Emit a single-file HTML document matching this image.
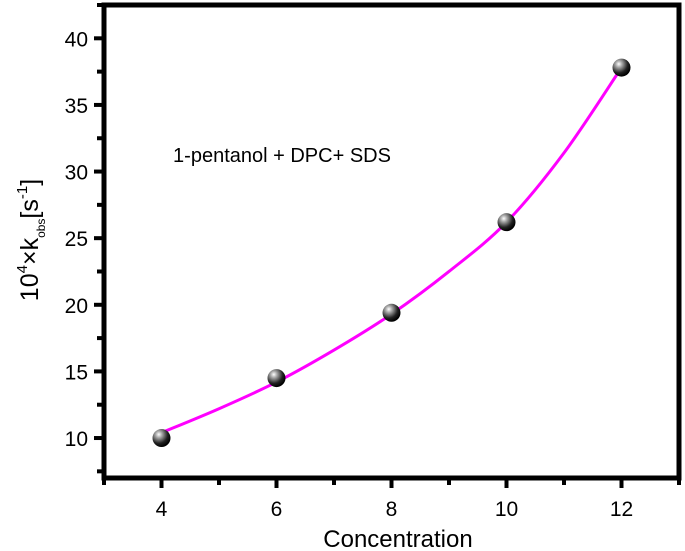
<!DOCTYPE html>
<html><head><meta charset="utf-8"><style>
body{margin:0;background:#fff;}
svg{display:block;font-family:"Liberation Sans",Arial,sans-serif;}
</style></head><body>
<svg id="chart" width="685" height="551" viewBox="0 0 685 551">
<defs>
<radialGradient id="ball" cx="0.35" cy="0.3" r="0.7">
<stop offset="0" stop-color="#fff"/><stop offset="0.25" stop-color="#aaa"/><stop offset="0.7" stop-color="#222"/><stop offset="1" stop-color="#000"/>
</radialGradient>
</defs>
<g id="axes"></g>
<g id="marks"></g>
<text x="282" y="162" font-size="20" text-anchor="middle">1-pentanol + DPC+ SDS</text>
<text x="398" y="547" font-size="24" text-anchor="middle">Concentration</text>
<text transform="translate(38,240) rotate(-90)" font-size="25" text-anchor="middle">10<tspan font-size="15" dy="-11">4</tspan><tspan dy="11">×k</tspan><tspan font-size="12" dy="7">obs</tspan><tspan dy="-7">[s</tspan><tspan font-size="15" dy="-11">-1</tspan><tspan dy="11">]</tspan></text>
</svg>
<script>
const xCats=[4,6,8,10,12];
const yVals=[10.0,14.5,19.4,26.2,37.8];
const fitX=[4,5,6,7,8,9,10,11,12];
const fitY=[10.4,12.2,14.2,16.6,19.3,22.5,26.2,31.4,37.8];
const xTicks=[4,6,8,10,12];
const yTicks=[10,15,20,25,30,35,40];

const L=104,R=679,T=5,B=478;
const xMin=3,xMax=13,yMin=7,yMax=42.5;
const sx=v=>L+(v-xMin)/(xMax-xMin)*(R-L);
const sy=v=>B-(v-yMin)/(yMax-yMin)*(B-T);
const NS="http://www.w3.org/2000/svg";
function mk(tag,attrs,parent){const e=document.createElementNS(NS,tag);for(const k in attrs)e.setAttribute(k,attrs[k]);parent.appendChild(e);return e;}
const axes=document.getElementById('axes'),marks=document.getElementById('marks');

const frame=mk('rect',{x:L,y:T,width:R-L,height:B-T,fill:'none',stroke:'#000','stroke-width':5},axes);



for(let v=3;v<=13;v++){
  const major=xTicks.includes(v);
  const t=mk('line',{x1:sx(v),x2:sx(v),y1:B,y2:B+(major?10:7),stroke:'#000','stroke-width':4},axes);
  
  
}
xTicks.forEach(v=>{
  const t=mk('text',{x:sx(v),y:B+38,'font-size':21,'text-anchor':'middle'},axes);
  t.textContent=v;
  
  
});
for(let v=7.5;v<=42.5;v+=2.5){
  const major=yTicks.includes(v);
  const t=mk('line',{x1:L,x2:L-(major?10:7),y1:sy(v),y2:sy(v),stroke:'#000','stroke-width':4},axes);
  
  
}
yTicks.forEach(v=>{
  const t=mk('text',{x:L-16,y:sy(v)+8,'font-size':21,'text-anchor':'end'},axes);
  t.textContent=v;
  
  
});

const pts=fitX.map((x,i)=>[sx(x),sy(fitY[i])]);
let d='M'+pts[0][0]+','+pts[0][1];
for(let i=0;i<pts.length-1;i++){
  const p0=pts[Math.max(0,i-1)],p1=pts[i],p2=pts[i+1],p3=pts[Math.min(pts.length-1,i+2)];
  d+=' C'+(p1[0]+(p2[0]-p0[0])/6)+','+(p1[1]+(p2[1]-p0[1])/6)+' '+(p2[0]-(p3[0]-p1[0])/6)+','+(p2[1]-(p3[1]-p1[1])/6)+' '+p2[0]+','+p2[1];
}
const fit=mk('path',{d:d,fill:'none',stroke:'#ff00ff','stroke-width':3},marks);



xCats.forEach((x,i)=>{
  const c=mk('circle',{cx:sx(x),cy:sy(yVals[i]),r:9,fill:'url(#ball)'},marks);
  
  
});
</script>
</body></html>
